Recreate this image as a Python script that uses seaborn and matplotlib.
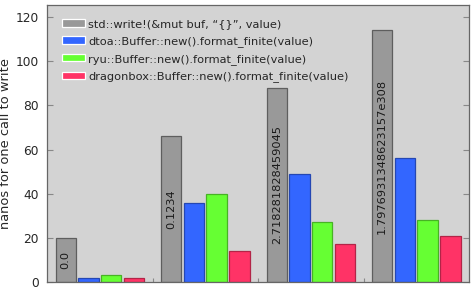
import pandas as pd
import matplotlib
matplotlib.use("Agg")
from matplotlib import pyplot as plt
import seaborn as sns

############### Data ######################
inputs = ["0.0", "0.1234", "2.718281828459045", "1.7976931348623157e308"]
impls = [
    "std::write!(&mut buf, \u201c{}\u201d, value)",
    "dtoa::Buffer::new().format_finite(value)",
    "ryu::Buffer::new().format_finite(value)",
    "dragonbox::Buffer::new().format_finite(value)",
]
std_write = [20, 66, 88, 114]
dtoa = [2, 36, 49, 56]
ryu = [3, 40, 27, 28]
dragonbox = [2, 14, 17, 21]

fills = ["#999999", "#3366ff", "#66ff33", "#ff3366"]
edges = ["#5e5e5e", "#2447b3", "#47b324", "#b32447"]

rows = []
for impl, vals in zip(impls, [std_write, dtoa, ryu, dragonbox]):
    for inp, v in zip(inputs, vals):
        rows.append({"input": inp, "impl": impl, "nanos": v})
df = pd.DataFrame(rows)

############### Plotting #############################
sns.set_style("white")
plt.rcParams["font.family"] = ["DejaVu Sans"]
fig = plt.figure(figsize=(4.74, 2.91), dpi=100)
ax = fig.add_axes([0.0992, 0.0309, 0.8903, 0.9536])
ax.set_facecolor("#d3d3d3")

sns.barplot(data=df, x="input", y="nanos", hue="impl", order=inputs,
            hue_order=impls, palette=fills, width=0.86, gap=0.1,
            saturation=1, ax=ax, linewidth=0.9)

for cont, ec in zip(ax.containers, edges):
    for bar in cont:
        bar.set_edgecolor(ec)

ax.bar_label(ax.containers[0], labels=inputs, label_type="center",
             rotation=90, fontsize=8.2, color="#1a1a1a")

ax.set_xlim(-0.5, 3.5)
ax.set_ylim(0, 125.7)
ax.set_yticks([0, 20, 40, 60, 80, 100, 120])
ax.set_xticks([0.5, 1.5, 2.5])
ax.set_xticklabels([])
ax.set_xlabel("")
ax.set_ylabel("nanos for one call to write", fontsize=9.4)
ax.yaxis.set_label_coords(-0.083, 0.5)
ax.tick_params(axis="y", direction="in", length=4, labelsize=8.8,
               right=True, left=True, color="#888888", pad=6)
ax.tick_params(axis="x", direction="in", length=3, bottom=True,
               color="#888888")
for s in ax.spines.values():
    s.set_color("#666666")
    s.set_linewidth(0.9)

leg = ax.legend(loc="upper left", bbox_to_anchor=(0.0195, 0.972), frameon=False,
                fontsize=8.2, handlelength=2.0, handleheight=0.65,
                handletextpad=0.3, labelspacing=0.6, borderaxespad=0.2)

fig.savefig("out.png", dpi=100)
